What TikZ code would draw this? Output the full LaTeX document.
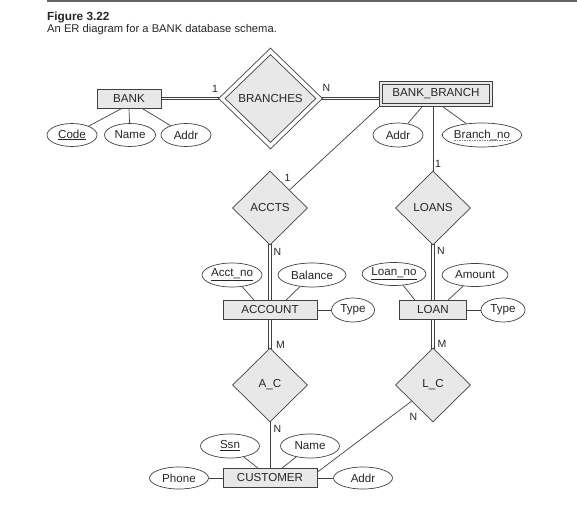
\documentclass[tikz,border=0pt]{standalone}
\usepackage{fontspec}
\setmainfont{Liberation Sans}
\usetikzlibrary{shapes.geometric}

\begin{document}
\begin{tikzpicture}[x=1pt,y=-1pt]
        \tikzstyle{every node}=[font=\fontsize{11.6}{13}\selectfont, text=black!85]
        \tikzstyle{entity}=[draw=black!75, fill=black!9, rectangle, inner sep=0pt, line width=0.7pt, minimum height=19pt]
        \tikzstyle{relation}=[draw=black!75, fill=black!9, diamond, inner sep=0pt, line width=0.7pt, minimum width=75pt, minimum height=74pt]
        \tikzstyle{attr}=[draw=black!75, ellipse, inner sep=0pt, line width=0.7pt, minimum height=23pt]
        \tikzstyle{link}=[draw=black!75, line width=0.7pt]
        \tikzstyle{card}=[inner sep=0pt, font=\fontsize{10.5}{12}\selectfont]

        \useasboundingbox (0,0) rectangle (577,521);
        \draw[line width=2pt, black!60] (47,1) -- (577,1);
        \node[anchor=base west, inner sep=0pt, font=\bfseries\fontsize{11.8}{13}\selectfont] (Figure) at (47,20.5) {Figure 3.22};
        \node[anchor=base west, inner sep=0pt, font=\fontsize{11.2}{13}\selectfont] (Caption) at (47,33) {An ER diagram for a BANK database schema.};

        \node[entity, minimum width=64pt] (BANK) at (129,98.5) {BANK};
        \node[relation, fill=white, minimum width=104pt, minimum height=101pt] (BRANCHES) at (270.5,98.5) {};
        \node[relation, minimum width=91pt, minimum height=88pt] (BRANCHESin) at (270.5,98.5) {BRANCHES};
        \node[entity, minimum width=113pt, minimum height=25pt] (BANKBRANCH) at (436,94) {BANK\_BRANCH};
        \draw[black!75, line width=0.7pt] ([xshift=3.4pt,yshift=-3.4pt]BANKBRANCH.north west) rectangle ([xshift=-3.4pt,yshift=3.4pt]BANKBRANCH.south east);

        \node[attr, minimum width=50pt] (Code) at (72,135) {\underline{Code}};
        \node[attr, minimum width=51pt] (BankName) at (130,135) {Name};
        \node[attr, minimum width=50pt] (BankAddr) at (186,135) {Addr};
        \node[attr, minimum width=50pt, minimum height=24pt] (BranchAddr) at (398,135) {Addr};
        \node[attr, minimum width=79pt, minimum height=24pt] (BranchNo) at (482,135) {Branch\_no};
        \draw[black!50, line width=0.6pt, dash pattern=on 1.5pt off 1pt] ([xshift=-28pt,yshift=-5pt]BranchNo.center) -- ++(57,0);

        \node[relation] (ACCTS) at (270,208) {ACCTS};
        \node[relation] (LOANS) at (433,208) {LOANS};

        \node[entity, minimum width=94pt] (ACCOUNT) at (270,310) {ACCOUNT};
        \node[attr, minimum width=60pt, minimum height=24pt] (AcctNo) at (232,275) {\underline{Acct\_no}};
        \node[attr, minimum width=68pt, minimum height=24pt] (Balance) at (312,275) {Balance};
        \node[attr, minimum width=43pt, minimum height=24pt] (AcctType) at (353,310) {Type};

        \node[entity, minimum width=67pt] (LOAN) at (433,310) {LOAN};
        \node[attr, minimum width=61pt] (LoanNo) at (394,274) {\underline{Loan\_no}};
        \node[attr, minimum width=66pt] (Amount) at (475,275) {Amount};
        \node[attr, minimum width=44pt, minimum height=24pt] (LoanType) at (503,310) {Type};

        \node[relation] (AC) at (270,385) {A\_C};
        \node[relation] (LC) at (433,385) {L\_C};

        \node[entity, minimum width=94pt] (CUSTOMER) at (270,478) {CUSTOMER};
        \node[attr, minimum width=59pt, minimum height=24pt] (Ssn) at (230,446) {\underline{Ssn}};
        \node[attr, minimum width=59pt, minimum height=24pt] (CustName) at (310,446) {Name};
        \node[attr, minimum width=59pt, minimum height=22pt] (Phone) at (179,478) {Phone};
        \node[attr, minimum width=59pt, minimum height=22pt] (CustAddr) at (363,478) {Addr};

        \draw[link] ([yshift=1.2pt]BANK.east) -- ([xshift=1.2pt,yshift=1.2pt]BRANCHES.west);
        \draw[link] ([yshift=-1.2pt]BANK.east) -- ([xshift=1.2pt,yshift=-1.2pt]BRANCHES.west);
        \draw[link] ([xshift=-1.2pt,yshift=1.2pt]BRANCHES.east) -- ([yshift=1.2pt]BRANCHES.east -| BANKBRANCH.west);
        \draw[link] ([xshift=-1.2pt,yshift=-1.2pt]BRANCHES.east) -- ([yshift=-1.2pt]BRANCHES.east -| BANKBRANCH.west);
        \draw[link] ([xshift=-7pt]BANK.south) -- (Code);
        \draw[link] (BANK.south) -- (BankName);
        \draw[link] ([xshift=13pt]BANK.south) -- (BankAddr);
        \draw[link] ([xshift=-14pt]BANKBRANCH.south) -- (BranchAddr);
        \draw[link] ([xshift=7pt]BANKBRANCH.south) -- (BranchNo);
        \draw[link] (BANKBRANCH.south west) -- (ACCTS);
        \draw[link] (LOANS.north) -- (LOANS.north |- BANKBRANCH.south);
        \draw[link] ([xshift=-1.2pt,yshift=1.2pt]ACCTS.south) -- ([xshift=-1.2pt]ACCOUNT.north);
        \draw[link] ([xshift=1.2pt,yshift=1.2pt]ACCTS.south) -- ([xshift=1.2pt]ACCOUNT.north);
        \draw[link] ([xshift=-1.2pt,yshift=1.2pt]LOANS.south) -- ([xshift=-1.2pt]LOAN.north);
        \draw[link] ([xshift=1.2pt,yshift=1.2pt]LOANS.south) -- ([xshift=1.2pt]LOAN.north);
        \draw[link] ([xshift=-16pt]ACCOUNT.north) -- (AcctNo);
        \draw[link] ([xshift=16pt]ACCOUNT.north) -- (Balance);
        \draw[link] (ACCOUNT.east) -- (AcctType);
        \draw[link] ([xshift=-18pt]LOAN.north) -- (LoanNo);
        \draw[link] ([xshift=15pt]LOAN.north) -- (Amount);
        \draw[link] (LOAN.east) -- (LoanType);
        \draw[link] ([xshift=-1.2pt]ACCOUNT.south) -- ([xshift=-1.2pt,yshift=-1.2pt]AC.north);
        \draw[link] ([xshift=1.2pt]ACCOUNT.south) -- ([xshift=1.2pt,yshift=-1.2pt]AC.north);
        \draw[link] ([xshift=-1.2pt]LOAN.south) -- ([xshift=-1.2pt,yshift=-1.2pt]LC.north);
        \draw[link] ([xshift=1.2pt]LOAN.south) -- ([xshift=1.2pt,yshift=-1.2pt]LC.north);
        \draw[link] (AC.south) -- (CUSTOMER.north);
        \draw[link] (LC) -- ([yshift=-4pt]CUSTOMER.north east);
        \draw[link] ([xshift=-12pt]CUSTOMER.north) -- (Ssn);
        \draw[link] ([xshift=12pt]CUSTOMER.north) -- (CustName);
        \draw[link] (Phone) -- (CUSTOMER.west);
        \draw[link] (CUSTOMER.east) -- (CustAddr);

        \node[card] (BankCard) at (215,89) {1};
        \node[card] (BranchCard) at (326.5,87.5) {N};
        \node[card] (AcctsTop) at (287.5,178) {1};
        \node[card] (LoansTop) at (438,164) {1};
        \node[card] (AcctsBot) at (277.5,251.5) {N};
        \node[card] (LoansBot) at (441,251) {N};
        \node[card] (ACTop) at (280.5,345) {M};
        \node[card] (ACBot) at (277.5,429) {N};
        \node[card] (LCTop) at (442,344) {M};
        \node[card] (LCBot) at (413.5,416.5) {N};
\end{tikzpicture}
\end{document}
